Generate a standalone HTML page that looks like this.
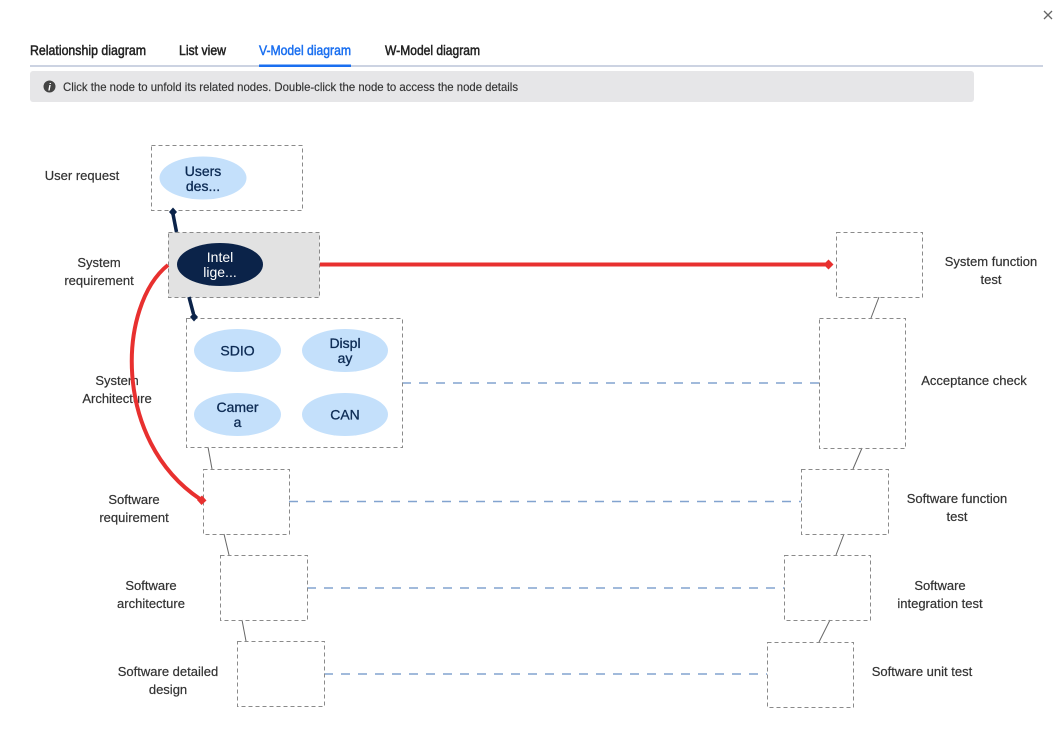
<!DOCTYPE html>
<html><head><meta charset="utf-8"><style>
html,body{margin:0;padding:0;background:#fff;width:1064px;height:730px;overflow:hidden}
svg{display:block}
text{font-family:"Liberation Sans",sans-serif}
</style></head><body>
<svg width="1064" height="730" viewBox="0 0 1064 730" xmlns="http://www.w3.org/2000/svg">
<rect width="1064" height="730" fill="#fff"/>
<!-- close X -->
<path d="M1044 11 L1052 19 M1052 11 L1044 19" stroke="#666" stroke-width="1.3"/>
<!-- tabs -->
<g font-size="14" fill="#222" stroke="#222" stroke-width="0.5">
<text x="30" y="55" textLength="116" lengthAdjust="spacingAndGlyphs">Relationship diagram</text>
<text x="179" y="55" textLength="47" lengthAdjust="spacingAndGlyphs">List view</text>
<text x="259" y="55" textLength="92" lengthAdjust="spacingAndGlyphs" fill="#1a6ff0" stroke="#1a6ff0">V-Model diagram</text>
<text x="385" y="55" textLength="95" lengthAdjust="spacingAndGlyphs">W-Model diagram</text>
</g>
<rect x="30" y="65" width="1013" height="2" fill="#ccd3e2"/>
<rect x="259" y="64.5" width="92" height="2.5" fill="#1a6ff0"/>
<!-- info bar -->
<rect x="30" y="71" width="944" height="31" rx="3" fill="#e6e6e8"/>
<circle cx="49.5" cy="86.5" r="6" fill="#444"/>
<text x="49.5" y="90.5" font-size="10" font-weight="bold" font-style="italic" fill="#fff" text-anchor="middle" font-family="Liberation Serif, serif">i</text>
<text x="63" y="91" font-size="12" fill="#333" stroke="#333" stroke-width="0.15" textLength="455" lengthAdjust="spacingAndGlyphs">Click the node to unfold its related nodes. Double-click the node to access the node details</text>

<!-- left labels -->
<g font-size="13" fill="#333" stroke="#333" stroke-width="0.2" text-anchor="middle">
<text x="82" y="180">User request</text>
<text x="99" y="267">System</text>
<text x="99" y="285">requirement</text>
<text x="117" y="385">System</text>
<text x="117" y="403">Architecture</text>
<text x="134" y="504">Software</text>
<text x="134" y="522">requirement</text>
<text x="151" y="590">Software</text>
<text x="151" y="608">architecture</text>
<text x="168" y="676">Software detailed</text>
<text x="168" y="694">design</text>
<!-- right labels -->
<text x="991" y="266">System function</text>
<text x="991" y="284">test</text>
<text x="974" y="385">Acceptance check</text>
<text x="957" y="503">Software function</text>
<text x="957" y="521">test</text>
<text x="940" y="590">Software</text>
<text x="940" y="608">integration test</text>
<text x="922" y="676">Software unit test</text>
</g>

<!-- blue dashed links -->
<g stroke="#82a3cf" stroke-width="1.5" stroke-dasharray="9 8" fill="none">
<line x1="402" y1="383" x2="819" y2="383"/>
<line x1="289" y1="501.5" x2="801" y2="501.5"/>
<line x1="307" y1="588" x2="784" y2="588"/>
<line x1="324" y1="674" x2="767" y2="674"/>
</g>

<!-- gray connectors -->
<g stroke="#666" stroke-width="1" fill="none">
<line x1="208" y1="447" x2="212" y2="469"/>
<line x1="224" y1="534" x2="229" y2="555"/>
<line x1="242" y1="620" x2="246" y2="641"/>
<line x1="879" y1="297" x2="871" y2="318"/>
<line x1="862" y1="448" x2="853" y2="469"/>
<line x1="844" y1="534" x2="836" y2="555"/>
<line x1="830" y1="620" x2="819" y2="642"/>
</g>

<!-- boxes -->
<g stroke="#8a8a8a" stroke-width="1" stroke-dasharray="4 3" fill="none">
<rect x="151.5" y="145.5" width="151" height="65"/>
<rect x="168.5" y="232.5" width="151" height="65" fill="#e2e2e2"/>
<rect x="186.5" y="318.5" width="216" height="129"/>
<rect x="203.5" y="469.5" width="86" height="65"/>
<rect x="220.5" y="555.5" width="87" height="65"/>
<rect x="237.5" y="641.5" width="87" height="65"/>
<rect x="836.5" y="232.5" width="86" height="65"/>
<rect x="819.5" y="318.5" width="86" height="130"/>
<rect x="801.5" y="469.5" width="87" height="65"/>
<rect x="784.5" y="555.5" width="86" height="65"/>
<rect x="767.5" y="642.5" width="86" height="65"/>
</g>

<!-- ellipses -->
<g fill="#c4e0fb">
<ellipse cx="203" cy="178" rx="43.5" ry="21.5"/>
<ellipse cx="237.5" cy="350.5" rx="43.5" ry="21.5"/>
<ellipse cx="345" cy="350.5" rx="43" ry="21.5"/>
<ellipse cx="237.5" cy="414.5" rx="43.5" ry="21.5"/>
<ellipse cx="345" cy="414.5" rx="43" ry="21.5"/>
</g>
<ellipse cx="220" cy="264.5" rx="43" ry="21.5" fill="#0b2349"/>
<g font-size="14" fill="#0c2a53" text-anchor="middle" stroke="#0c2a53" stroke-width="0.3">
<text x="203" y="176">Users</text>
<text x="203" y="191">des...</text>
<text x="237.5" y="355.5">SDIO</text>
<text x="345" y="348">Displ</text>
<text x="345" y="363">ay</text>
<text x="237.5" y="412">Camer</text>
<text x="237.5" y="427">a</text>
<text x="345" y="419.5">CAN</text>
</g>
<g font-size="14" fill="#fff" text-anchor="middle">
<text x="220" y="262">Intel</text>
<text x="220" y="277">lige...</text>
</g>

<!-- navy connectors -->
<g stroke="#0b2349" stroke-width="3.5" fill="none">
<line x1="176.5" y1="232" x2="173" y2="214"/>
<line x1="189" y1="297" x2="193.5" y2="314"/>
</g>
<path d="M173 207.5 L177 212 L173 216.5 L169 212 Z" fill="#0b2349"/>
<path d="M194 312.5 L198 317 L194 321.5 L190 317 Z" fill="#0b2349"/>

<!-- red connectors -->
<g stroke="#e8302f" stroke-width="4" fill="none">
<line x1="320" y1="264.5" x2="826" y2="264.5"/>
<path d="M168 265 C118 305 112 440 200 499"/>
</g>
<path d="M828.5 259.5 L833.5 264.5 L828.5 269.5 L823.5 264.5 Z" fill="#e8302f"/>
<path d="M202 495.5 L206.5 500.5 L201.5 505 L197 500 Z" fill="#e8302f"/>
</svg>
</body></html>
